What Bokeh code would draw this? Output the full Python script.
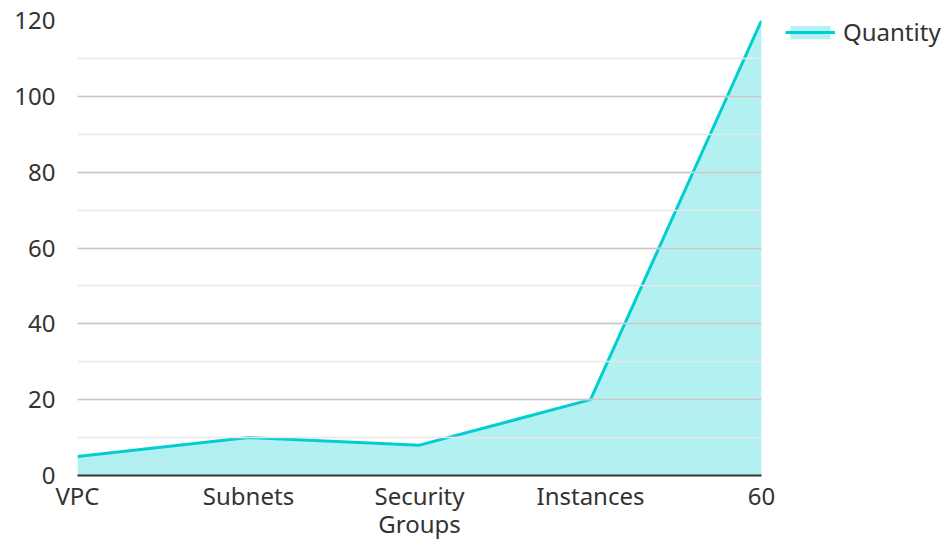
from bokeh.plotting import figure
from bokeh.models import ColumnDataSource, Range1d, SingleIntervalTicker, FixedTicker, Legend, LegendItem
from bokeh.embed import file_html
from bokeh.resources import INLINE

categories = ["VPC", "Subnets", "Security\nGroups", "Instances", "60"]
quantity = [5, 10, 8, 20, 120]

xs = list(range(len(categories)))
src = ColumnDataSource(dict(x=xs, y=quantity, y0=[0] * len(xs)))

FONT = "Noto Sans"
TXT = "#333333"
LINE = "#00CED1"
FS = "24px"

p = figure(frame_width=684, frame_height=455, output_backend="svg", toolbar_location=None,
           x_range=Range1d(0, len(xs) - 1), y_range=Range1d(0, 120),
           min_border_left=77, min_border_right=183, min_border_top=20, min_border_bottom=71)
p.outline_line_color = None

area = p.varea(x="x", y1="y0", y2="y", source=src, fill_color=LINE, fill_alpha=0.3)
line = p.line(x="x", y="y", source=src, line_color=LINE, line_width=3)

p.xaxis.ticker = FixedTicker(ticks=xs)
p.xaxis.major_label_overrides = {i: c for i, c in enumerate(categories)}
p.xaxis.axis_line_color = "#333333"
p.xaxis.axis_line_width = 2
p.xaxis.major_tick_line_color = None
p.xaxis.minor_tick_line_color = None
p.xaxis.major_tick_out = 0
p.xaxis.major_label_standoff = 3
p.xaxis.major_label_text_font = FONT
p.xaxis.major_label_text_font_size = FS
p.xaxis.major_label_text_color = TXT
p.xaxis.major_label_text_line_height = 0.87

p.yaxis.ticker = SingleIntervalTicker(interval=20, num_minor_ticks=2)
p.yaxis.axis_line_color = None
p.yaxis.major_tick_line_color = None
p.yaxis.minor_tick_line_color = None
p.yaxis.major_tick_out = 0
p.yaxis.major_label_standoff = 18
p.yaxis.major_label_text_font = FONT
p.yaxis.major_label_text_font_size = FS
p.yaxis.major_label_text_color = TXT

p.xgrid.grid_line_color = None
p.ygrid.ticker = SingleIntervalTicker(interval=20, num_minor_ticks=2)
p.ygrid.grid_line_color = "#c8c8c8"
p.ygrid.grid_line_width = 1.5
p.ygrid.minor_grid_line_color = "#e8e8e8"
p.ygrid.minor_grid_line_width = 1.5
p.ygrid.level = "glyph"

legend = Legend(items=[LegendItem(label="Quantity", renderers=[area, line])],
                location=(24, 427))
legend.padding = 0
legend.margin = 0
legend.border_line_alpha = 0
legend.background_fill_alpha = 0
legend.glyph_width = 50
legend.glyph_height = 16
legend.label_standoff = 8
legend.label_text_font = FONT
legend.label_text_font_size = FS
legend.label_text_color = TXT
p.add_layout(legend, "right")

open("out.html", "w").write(file_html(p, INLINE))
